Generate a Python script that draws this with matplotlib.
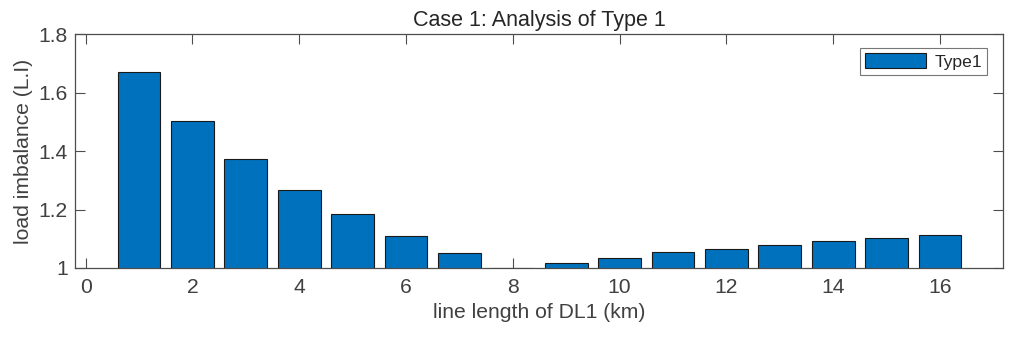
import numpy as np
import matplotlib as mpl
import matplotlib.pyplot as plt

mpl.rcParams['font.family'] = ['Liberation Sans', 'DejaVu Sans']

# line length of DL1 (km) and load imbalance for Type1
line_len = [1, 2, 3, 4, 5, 6, 7, 8, 9, 10, 11, 12, 13, 14, 15, 16]
type1 = [1.670, 1.504, 1.372, 1.268, 1.183, 1.109, 1.052, 1.000,
         1.017, 1.033, 1.055, 1.065, 1.079, 1.092, 1.102, 1.113]

xticks = [0, 2, 4, 6, 8, 10, 12, 14, 16]
yticks = [1, 1.2, 1.4, 1.6, 1.8]
ytick_labels = ['1', '1.2', '1.4', '1.6', '1.8']

axis_col = '#4d4d4d'
txt_col = '#262626'
fs = 15.2

fig = plt.figure(figsize=(10.24, 3.4), dpi=100)
ax = fig.add_axes([0.0732, 0.2118, 0.9063, 0.688])

ax.bar(line_len, type1, width=0.8, color='#0072BD', edgecolor='#1a1a1a',
       linewidth=0.8, label='Type1', zorder=2)

ax.set_xlim(-0.2, 17.18)
ax.set_ylim(1, 1.8)
ax.set_xticks(xticks)
ax.set_yticks(yticks)
ax.set_yticklabels(ytick_labels)
ax.tick_params(direction='in', length=7, width=0.8, colors=axis_col,
               labelcolor='#404040', labelsize=fs, top=True, right=True,
               pad=5)
ax.tick_params(axis='x', pad=7)
for s in ax.spines.values():
    s.set_color(axis_col)
    s.set_linewidth(0.9)

ax.set_xlabel('line length of DL1 (km)', fontsize=fs, color='#404040', labelpad=4.5)
ax.set_ylabel('load imbalance (L.I)', fontsize=fs, color='#404040', labelpad=4)
ax.set_title('Case 1: Analysis of Type 1', fontsize=15.5, color=txt_col, pad=6)

leg = ax.legend(loc='upper right', fontsize=12.6, frameon=True, fancybox=False,
                handlelength=3.5, handleheight=0.95, borderpad=0.3,
                handletextpad=0.45, borderaxespad=0,
                bbox_to_anchor=(0.9828, 0.940))
leg.get_frame().set_edgecolor('#555555')
leg.get_frame().set_linewidth(0.8)
for t in leg.get_texts():
    t.set_color(txt_col)

fig.savefig('out.png', dpi=100)
